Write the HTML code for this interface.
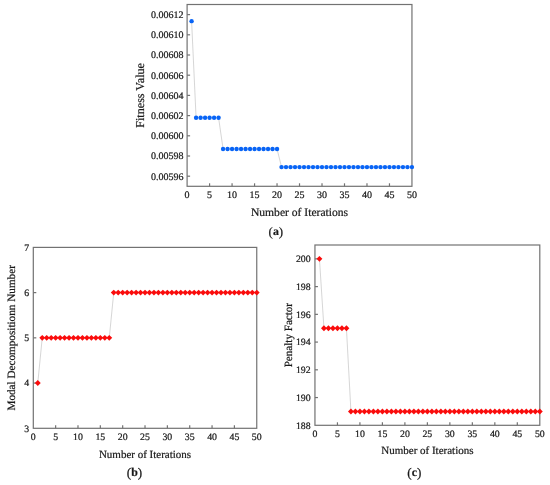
<!DOCTYPE html>
<html><head><meta charset="utf-8"><style>
html,body{margin:0;padding:0;background:#fff;}
body{width:550px;height:485px;overflow:hidden;}
svg{display:block;}
text{font-family:"Liberation Serif", "Times New Roman", serif;fill:#1a1a1a;stroke:#1a1a1a;stroke-width:0.22px;text-rendering:geometricPrecision;}
</style></head><body>
<svg width="550" height="485" viewBox="0 0 550 485">
<rect width="550" height="485" fill="#fff"/>
<g>
<rect x="187.1" y="4.5" width="224.85" height="181.8" fill="none" stroke="#727272" stroke-width="1.2"/>
<text x="187.1" y="197.5" text-anchor="middle" font-size="10">0</text>
<line x1="209.58" y1="186.3" x2="209.58" y2="183.3" stroke="#727272" stroke-width="1.2"/>
<text x="209.58" y="197.5" text-anchor="middle" font-size="10">5</text>
<line x1="232.07" y1="186.3" x2="232.07" y2="183.3" stroke="#727272" stroke-width="1.2"/>
<text x="232.07" y="197.5" text-anchor="middle" font-size="10">10</text>
<line x1="254.56" y1="186.3" x2="254.56" y2="183.3" stroke="#727272" stroke-width="1.2"/>
<text x="254.56" y="197.5" text-anchor="middle" font-size="10">15</text>
<line x1="277.04" y1="186.3" x2="277.04" y2="183.3" stroke="#727272" stroke-width="1.2"/>
<text x="277.04" y="197.5" text-anchor="middle" font-size="10">20</text>
<line x1="299.52" y1="186.3" x2="299.52" y2="183.3" stroke="#727272" stroke-width="1.2"/>
<text x="299.52" y="197.5" text-anchor="middle" font-size="10">25</text>
<line x1="322.01" y1="186.3" x2="322.01" y2="183.3" stroke="#727272" stroke-width="1.2"/>
<text x="322.01" y="197.5" text-anchor="middle" font-size="10">30</text>
<line x1="344.5" y1="186.3" x2="344.5" y2="183.3" stroke="#727272" stroke-width="1.2"/>
<text x="344.5" y="197.5" text-anchor="middle" font-size="10">35</text>
<line x1="366.98" y1="186.3" x2="366.98" y2="183.3" stroke="#727272" stroke-width="1.2"/>
<text x="366.98" y="197.5" text-anchor="middle" font-size="10">40</text>
<line x1="389.47" y1="186.3" x2="389.47" y2="183.3" stroke="#727272" stroke-width="1.2"/>
<text x="389.47" y="197.5" text-anchor="middle" font-size="10">45</text>
<text x="411.95" y="197.5" text-anchor="middle" font-size="10">50</text>
<line x1="187.1" y1="176.2" x2="190.1" y2="176.2" stroke="#727272" stroke-width="1.2"/>
<text x="183.4" y="179.55" text-anchor="end" font-size="10">0.00596</text>
<line x1="187.1" y1="156" x2="190.1" y2="156" stroke="#727272" stroke-width="1.2"/>
<text x="183.4" y="159.35" text-anchor="end" font-size="10">0.00598</text>
<line x1="187.1" y1="135.8" x2="190.1" y2="135.8" stroke="#727272" stroke-width="1.2"/>
<text x="183.4" y="139.15" text-anchor="end" font-size="10">0.00600</text>
<line x1="187.1" y1="115.6" x2="190.1" y2="115.6" stroke="#727272" stroke-width="1.2"/>
<text x="183.4" y="118.95" text-anchor="end" font-size="10">0.00602</text>
<line x1="187.1" y1="95.4" x2="190.1" y2="95.4" stroke="#727272" stroke-width="1.2"/>
<text x="183.4" y="98.75" text-anchor="end" font-size="10">0.00604</text>
<line x1="187.1" y1="75.2" x2="190.1" y2="75.2" stroke="#727272" stroke-width="1.2"/>
<text x="183.4" y="78.55" text-anchor="end" font-size="10">0.00606</text>
<line x1="187.1" y1="55" x2="190.1" y2="55" stroke="#727272" stroke-width="1.2"/>
<text x="183.4" y="58.35" text-anchor="end" font-size="10">0.00608</text>
<line x1="187.1" y1="34.8" x2="190.1" y2="34.8" stroke="#727272" stroke-width="1.2"/>
<text x="183.4" y="38.15" text-anchor="end" font-size="10">0.00610</text>
<line x1="187.1" y1="14.6" x2="190.1" y2="14.6" stroke="#727272" stroke-width="1.2"/>
<text x="183.4" y="17.95" text-anchor="end" font-size="10">0.00612</text>
<polyline points="191.6,21.17 196.09,117.82 200.59,117.82 205.09,117.82 209.58,117.82 214.08,117.82 218.58,117.82 223.08,148.93 227.57,148.93 232.07,148.93 236.57,148.93 241.06,148.93 245.56,148.93 250.06,148.93 254.56,148.93 259.05,148.93 263.55,148.93 268.05,148.93 272.54,148.93 277.04,148.93 281.54,167.11 286.03,167.11 290.53,167.11 295.03,167.11 299.52,167.11 304.02,167.11 308.52,167.11 313.02,167.11 317.51,167.11 322.01,167.11 326.51,167.11 331,167.11 335.5,167.11 340,167.11 344.5,167.11 348.99,167.11 353.49,167.11 357.99,167.11 362.48,167.11 366.98,167.11 371.48,167.11 375.97,167.11 380.47,167.11 384.97,167.11 389.47,167.11 393.96,167.11 398.46,167.11 402.96,167.11 407.45,167.11 411.95,167.11" fill="none" stroke="#cbcbcb" stroke-width="0.8"/>
<circle cx="191.6" cy="21.17" r="2.2" fill="#0864f6"/>
<circle cx="196.09" cy="117.82" r="2.2" fill="#0864f6"/>
<circle cx="200.59" cy="117.82" r="2.2" fill="#0864f6"/>
<circle cx="205.09" cy="117.82" r="2.2" fill="#0864f6"/>
<circle cx="209.58" cy="117.82" r="2.2" fill="#0864f6"/>
<circle cx="214.08" cy="117.82" r="2.2" fill="#0864f6"/>
<circle cx="218.58" cy="117.82" r="2.2" fill="#0864f6"/>
<circle cx="223.08" cy="148.93" r="2.2" fill="#0864f6"/>
<circle cx="227.57" cy="148.93" r="2.2" fill="#0864f6"/>
<circle cx="232.07" cy="148.93" r="2.2" fill="#0864f6"/>
<circle cx="236.57" cy="148.93" r="2.2" fill="#0864f6"/>
<circle cx="241.06" cy="148.93" r="2.2" fill="#0864f6"/>
<circle cx="245.56" cy="148.93" r="2.2" fill="#0864f6"/>
<circle cx="250.06" cy="148.93" r="2.2" fill="#0864f6"/>
<circle cx="254.56" cy="148.93" r="2.2" fill="#0864f6"/>
<circle cx="259.05" cy="148.93" r="2.2" fill="#0864f6"/>
<circle cx="263.55" cy="148.93" r="2.2" fill="#0864f6"/>
<circle cx="268.05" cy="148.93" r="2.2" fill="#0864f6"/>
<circle cx="272.54" cy="148.93" r="2.2" fill="#0864f6"/>
<circle cx="277.04" cy="148.93" r="2.2" fill="#0864f6"/>
<circle cx="281.54" cy="167.11" r="2.2" fill="#0864f6"/>
<circle cx="286.03" cy="167.11" r="2.2" fill="#0864f6"/>
<circle cx="290.53" cy="167.11" r="2.2" fill="#0864f6"/>
<circle cx="295.03" cy="167.11" r="2.2" fill="#0864f6"/>
<circle cx="299.52" cy="167.11" r="2.2" fill="#0864f6"/>
<circle cx="304.02" cy="167.11" r="2.2" fill="#0864f6"/>
<circle cx="308.52" cy="167.11" r="2.2" fill="#0864f6"/>
<circle cx="313.02" cy="167.11" r="2.2" fill="#0864f6"/>
<circle cx="317.51" cy="167.11" r="2.2" fill="#0864f6"/>
<circle cx="322.01" cy="167.11" r="2.2" fill="#0864f6"/>
<circle cx="326.51" cy="167.11" r="2.2" fill="#0864f6"/>
<circle cx="331" cy="167.11" r="2.2" fill="#0864f6"/>
<circle cx="335.5" cy="167.11" r="2.2" fill="#0864f6"/>
<circle cx="340" cy="167.11" r="2.2" fill="#0864f6"/>
<circle cx="344.5" cy="167.11" r="2.2" fill="#0864f6"/>
<circle cx="348.99" cy="167.11" r="2.2" fill="#0864f6"/>
<circle cx="353.49" cy="167.11" r="2.2" fill="#0864f6"/>
<circle cx="357.99" cy="167.11" r="2.2" fill="#0864f6"/>
<circle cx="362.48" cy="167.11" r="2.2" fill="#0864f6"/>
<circle cx="366.98" cy="167.11" r="2.2" fill="#0864f6"/>
<circle cx="371.48" cy="167.11" r="2.2" fill="#0864f6"/>
<circle cx="375.97" cy="167.11" r="2.2" fill="#0864f6"/>
<circle cx="380.47" cy="167.11" r="2.2" fill="#0864f6"/>
<circle cx="384.97" cy="167.11" r="2.2" fill="#0864f6"/>
<circle cx="389.47" cy="167.11" r="2.2" fill="#0864f6"/>
<circle cx="393.96" cy="167.11" r="2.2" fill="#0864f6"/>
<circle cx="398.46" cy="167.11" r="2.2" fill="#0864f6"/>
<circle cx="402.96" cy="167.11" r="2.2" fill="#0864f6"/>
<circle cx="407.45" cy="167.11" r="2.2" fill="#0864f6"/>
<circle cx="411.95" cy="167.11" r="2.2" fill="#0864f6"/>
<text transform="translate(144.1,95.4) rotate(-90)" text-anchor="middle" font-size="12.1">Fitness Value</text>
<text x="299.52" y="216.2" text-anchor="middle" font-size="11.6">Number of Iterations</text>
<rect x="33.3" y="247.4" width="223.45" height="180.9" fill="none" stroke="#727272" stroke-width="1.2"/>
<text x="33.3" y="439.6" text-anchor="middle" font-size="9.8">0</text>
<line x1="55.64" y1="428.3" x2="55.64" y2="425.3" stroke="#727272" stroke-width="1.2"/>
<text x="55.64" y="439.6" text-anchor="middle" font-size="9.8">5</text>
<line x1="77.99" y1="428.3" x2="77.99" y2="425.3" stroke="#727272" stroke-width="1.2"/>
<text x="77.99" y="439.6" text-anchor="middle" font-size="9.8">10</text>
<line x1="100.33" y1="428.3" x2="100.33" y2="425.3" stroke="#727272" stroke-width="1.2"/>
<text x="100.33" y="439.6" text-anchor="middle" font-size="9.8">15</text>
<line x1="122.68" y1="428.3" x2="122.68" y2="425.3" stroke="#727272" stroke-width="1.2"/>
<text x="122.68" y="439.6" text-anchor="middle" font-size="9.8">20</text>
<line x1="145.02" y1="428.3" x2="145.02" y2="425.3" stroke="#727272" stroke-width="1.2"/>
<text x="145.02" y="439.6" text-anchor="middle" font-size="9.8">25</text>
<line x1="167.37" y1="428.3" x2="167.37" y2="425.3" stroke="#727272" stroke-width="1.2"/>
<text x="167.37" y="439.6" text-anchor="middle" font-size="9.8">30</text>
<line x1="189.71" y1="428.3" x2="189.71" y2="425.3" stroke="#727272" stroke-width="1.2"/>
<text x="189.71" y="439.6" text-anchor="middle" font-size="9.8">35</text>
<line x1="212.06" y1="428.3" x2="212.06" y2="425.3" stroke="#727272" stroke-width="1.2"/>
<text x="212.06" y="439.6" text-anchor="middle" font-size="9.8">40</text>
<line x1="234.4" y1="428.3" x2="234.4" y2="425.3" stroke="#727272" stroke-width="1.2"/>
<text x="234.4" y="439.6" text-anchor="middle" font-size="9.8">45</text>
<text x="256.75" y="439.6" text-anchor="middle" font-size="9.8">50</text>
<text x="29.2" y="431.58" text-anchor="end" font-size="9.8">3</text>
<line x1="33.3" y1="383.07" x2="36.3" y2="383.07" stroke="#727272" stroke-width="1.2"/>
<text x="29.2" y="386.36" text-anchor="end" font-size="9.8">4</text>
<line x1="33.3" y1="337.85" x2="36.3" y2="337.85" stroke="#727272" stroke-width="1.2"/>
<text x="29.2" y="341.13" text-anchor="end" font-size="9.8">5</text>
<line x1="33.3" y1="292.62" x2="36.3" y2="292.62" stroke="#727272" stroke-width="1.2"/>
<text x="29.2" y="295.91" text-anchor="end" font-size="9.8">6</text>
<text x="29.2" y="250.68" text-anchor="end" font-size="9.8">7</text>
<polyline points="37.77,383.07 42.24,337.85 46.71,337.85 51.18,337.85 55.64,337.85 60.11,337.85 64.58,337.85 69.05,337.85 73.52,337.85 77.99,337.85 82.46,337.85 86.93,337.85 91.4,337.85 95.87,337.85 100.33,337.85 104.8,337.85 109.27,337.85 113.74,292.62 118.21,292.62 122.68,292.62 127.15,292.62 131.62,292.62 136.09,292.62 140.56,292.62 145.02,292.62 149.49,292.62 153.96,292.62 158.43,292.62 162.9,292.62 167.37,292.62 171.84,292.62 176.31,292.62 180.78,292.62 185.25,292.62 189.71,292.62 194.18,292.62 198.65,292.62 203.12,292.62 207.59,292.62 212.06,292.62 216.53,292.62 221,292.62 225.47,292.62 229.94,292.62 234.4,292.62 238.87,292.62 243.34,292.62 247.81,292.62 252.28,292.62 256.75,292.62" fill="none" stroke="#cbcbcb" stroke-width="0.8"/>
<path d="M37.77 380.12L40.72 383.07L37.77 386.02L34.82 383.07Z" fill="#fa0c0c"/>
<path d="M42.24 334.9L45.19 337.85L42.24 340.8L39.29 337.85Z" fill="#fa0c0c"/>
<path d="M46.71 334.9L49.66 337.85L46.71 340.8L43.76 337.85Z" fill="#fa0c0c"/>
<path d="M51.18 334.9L54.13 337.85L51.18 340.8L48.23 337.85Z" fill="#fa0c0c"/>
<path d="M55.64 334.9L58.59 337.85L55.64 340.8L52.69 337.85Z" fill="#fa0c0c"/>
<path d="M60.11 334.9L63.06 337.85L60.11 340.8L57.16 337.85Z" fill="#fa0c0c"/>
<path d="M64.58 334.9L67.53 337.85L64.58 340.8L61.63 337.85Z" fill="#fa0c0c"/>
<path d="M69.05 334.9L72 337.85L69.05 340.8L66.1 337.85Z" fill="#fa0c0c"/>
<path d="M73.52 334.9L76.47 337.85L73.52 340.8L70.57 337.85Z" fill="#fa0c0c"/>
<path d="M77.99 334.9L80.94 337.85L77.99 340.8L75.04 337.85Z" fill="#fa0c0c"/>
<path d="M82.46 334.9L85.41 337.85L82.46 340.8L79.51 337.85Z" fill="#fa0c0c"/>
<path d="M86.93 334.9L89.88 337.85L86.93 340.8L83.98 337.85Z" fill="#fa0c0c"/>
<path d="M91.4 334.9L94.35 337.85L91.4 340.8L88.45 337.85Z" fill="#fa0c0c"/>
<path d="M95.87 334.9L98.82 337.85L95.87 340.8L92.92 337.85Z" fill="#fa0c0c"/>
<path d="M100.33 334.9L103.28 337.85L100.33 340.8L97.38 337.85Z" fill="#fa0c0c"/>
<path d="M104.8 334.9L107.75 337.85L104.8 340.8L101.85 337.85Z" fill="#fa0c0c"/>
<path d="M109.27 334.9L112.22 337.85L109.27 340.8L106.32 337.85Z" fill="#fa0c0c"/>
<path d="M113.74 289.68L116.69 292.62L113.74 295.57L110.79 292.62Z" fill="#fa0c0c"/>
<path d="M118.21 289.68L121.16 292.62L118.21 295.57L115.26 292.62Z" fill="#fa0c0c"/>
<path d="M122.68 289.68L125.63 292.62L122.68 295.57L119.73 292.62Z" fill="#fa0c0c"/>
<path d="M127.15 289.68L130.1 292.62L127.15 295.57L124.2 292.62Z" fill="#fa0c0c"/>
<path d="M131.62 289.68L134.57 292.62L131.62 295.57L128.67 292.62Z" fill="#fa0c0c"/>
<path d="M136.09 289.68L139.04 292.62L136.09 295.57L133.14 292.62Z" fill="#fa0c0c"/>
<path d="M140.56 289.68L143.51 292.62L140.56 295.57L137.61 292.62Z" fill="#fa0c0c"/>
<path d="M145.02 289.68L147.97 292.62L145.02 295.57L142.07 292.62Z" fill="#fa0c0c"/>
<path d="M149.49 289.68L152.44 292.62L149.49 295.57L146.54 292.62Z" fill="#fa0c0c"/>
<path d="M153.96 289.68L156.91 292.62L153.96 295.57L151.01 292.62Z" fill="#fa0c0c"/>
<path d="M158.43 289.68L161.38 292.62L158.43 295.57L155.48 292.62Z" fill="#fa0c0c"/>
<path d="M162.9 289.68L165.85 292.62L162.9 295.57L159.95 292.62Z" fill="#fa0c0c"/>
<path d="M167.37 289.68L170.32 292.62L167.37 295.57L164.42 292.62Z" fill="#fa0c0c"/>
<path d="M171.84 289.68L174.79 292.62L171.84 295.57L168.89 292.62Z" fill="#fa0c0c"/>
<path d="M176.31 289.68L179.26 292.62L176.31 295.57L173.36 292.62Z" fill="#fa0c0c"/>
<path d="M180.78 289.68L183.73 292.62L180.78 295.57L177.83 292.62Z" fill="#fa0c0c"/>
<path d="M185.25 289.68L188.2 292.62L185.25 295.57L182.3 292.62Z" fill="#fa0c0c"/>
<path d="M189.71 289.68L192.66 292.62L189.71 295.57L186.76 292.62Z" fill="#fa0c0c"/>
<path d="M194.18 289.68L197.13 292.62L194.18 295.57L191.23 292.62Z" fill="#fa0c0c"/>
<path d="M198.65 289.68L201.6 292.62L198.65 295.57L195.7 292.62Z" fill="#fa0c0c"/>
<path d="M203.12 289.68L206.07 292.62L203.12 295.57L200.17 292.62Z" fill="#fa0c0c"/>
<path d="M207.59 289.68L210.54 292.62L207.59 295.57L204.64 292.62Z" fill="#fa0c0c"/>
<path d="M212.06 289.68L215.01 292.62L212.06 295.57L209.11 292.62Z" fill="#fa0c0c"/>
<path d="M216.53 289.68L219.48 292.62L216.53 295.57L213.58 292.62Z" fill="#fa0c0c"/>
<path d="M221 289.68L223.95 292.62L221 295.57L218.05 292.62Z" fill="#fa0c0c"/>
<path d="M225.47 289.68L228.42 292.62L225.47 295.57L222.52 292.62Z" fill="#fa0c0c"/>
<path d="M229.94 289.68L232.89 292.62L229.94 295.57L226.99 292.62Z" fill="#fa0c0c"/>
<path d="M234.4 289.68L237.35 292.62L234.4 295.57L231.45 292.62Z" fill="#fa0c0c"/>
<path d="M238.87 289.68L241.82 292.62L238.87 295.57L235.92 292.62Z" fill="#fa0c0c"/>
<path d="M243.34 289.68L246.29 292.62L243.34 295.57L240.39 292.62Z" fill="#fa0c0c"/>
<path d="M247.81 289.68L250.76 292.62L247.81 295.57L244.86 292.62Z" fill="#fa0c0c"/>
<path d="M252.28 289.68L255.23 292.62L252.28 295.57L249.33 292.62Z" fill="#fa0c0c"/>
<path d="M256.75 289.68L259.7 292.62L256.75 295.57L253.8 292.62Z" fill="#fa0c0c"/>
<text transform="translate(14.8,337.85) rotate(-90)" text-anchor="middle" font-size="11.2">Modal Decompositionn Number</text>
<text x="145.03" y="457.5" text-anchor="middle" font-size="11">Number of Iterations</text>
<rect x="314.95" y="245" width="224.85" height="180.3" fill="none" stroke="#727272" stroke-width="1.2"/>
<text x="314.95" y="436.6" text-anchor="middle" font-size="9.8">0</text>
<line x1="337.44" y1="425.3" x2="337.44" y2="422.3" stroke="#727272" stroke-width="1.2"/>
<text x="337.44" y="436.6" text-anchor="middle" font-size="9.8">5</text>
<line x1="359.92" y1="425.3" x2="359.92" y2="422.3" stroke="#727272" stroke-width="1.2"/>
<text x="359.92" y="436.6" text-anchor="middle" font-size="9.8">10</text>
<line x1="382.4" y1="425.3" x2="382.4" y2="422.3" stroke="#727272" stroke-width="1.2"/>
<text x="382.4" y="436.6" text-anchor="middle" font-size="9.8">15</text>
<line x1="404.89" y1="425.3" x2="404.89" y2="422.3" stroke="#727272" stroke-width="1.2"/>
<text x="404.89" y="436.6" text-anchor="middle" font-size="9.8">20</text>
<line x1="427.38" y1="425.3" x2="427.38" y2="422.3" stroke="#727272" stroke-width="1.2"/>
<text x="427.38" y="436.6" text-anchor="middle" font-size="9.8">25</text>
<line x1="449.86" y1="425.3" x2="449.86" y2="422.3" stroke="#727272" stroke-width="1.2"/>
<text x="449.86" y="436.6" text-anchor="middle" font-size="9.8">30</text>
<line x1="472.34" y1="425.3" x2="472.34" y2="422.3" stroke="#727272" stroke-width="1.2"/>
<text x="472.34" y="436.6" text-anchor="middle" font-size="9.8">35</text>
<line x1="494.83" y1="425.3" x2="494.83" y2="422.3" stroke="#727272" stroke-width="1.2"/>
<text x="494.83" y="436.6" text-anchor="middle" font-size="9.8">40</text>
<line x1="517.31" y1="425.3" x2="517.31" y2="422.3" stroke="#727272" stroke-width="1.2"/>
<text x="517.31" y="436.6" text-anchor="middle" font-size="9.8">45</text>
<text x="539.8" y="436.6" text-anchor="middle" font-size="9.8">50</text>
<text x="310.6" y="428.58" text-anchor="end" font-size="9.8">188</text>
<line x1="314.95" y1="397.56" x2="317.95" y2="397.56" stroke="#727272" stroke-width="1.2"/>
<text x="310.6" y="400.84" text-anchor="end" font-size="9.8">190</text>
<line x1="314.95" y1="369.82" x2="317.95" y2="369.82" stroke="#727272" stroke-width="1.2"/>
<text x="310.6" y="373.11" text-anchor="end" font-size="9.8">192</text>
<line x1="314.95" y1="342.08" x2="317.95" y2="342.08" stroke="#727272" stroke-width="1.2"/>
<text x="310.6" y="345.37" text-anchor="end" font-size="9.8">194</text>
<line x1="314.95" y1="314.35" x2="317.95" y2="314.35" stroke="#727272" stroke-width="1.2"/>
<text x="310.6" y="317.63" text-anchor="end" font-size="9.8">196</text>
<line x1="314.95" y1="286.61" x2="317.95" y2="286.61" stroke="#727272" stroke-width="1.2"/>
<text x="310.6" y="289.89" text-anchor="end" font-size="9.8">198</text>
<line x1="314.95" y1="258.87" x2="317.95" y2="258.87" stroke="#727272" stroke-width="1.2"/>
<text x="310.6" y="262.15" text-anchor="end" font-size="9.8">200</text>
<polyline points="319.45,258.87 323.94,328.22 328.44,328.22 332.94,328.22 337.44,328.22 341.93,328.22 346.43,328.22 350.93,411.43 355.42,411.43 359.92,411.43 364.42,411.43 368.91,411.43 373.41,411.43 377.91,411.43 382.4,411.43 386.9,411.43 391.4,411.43 395.9,411.43 400.39,411.43 404.89,411.43 409.39,411.43 413.88,411.43 418.38,411.43 422.88,411.43 427.38,411.43 431.87,411.43 436.37,411.43 440.87,411.43 445.36,411.43 449.86,411.43 454.36,411.43 458.85,411.43 463.35,411.43 467.85,411.43 472.34,411.43 476.84,411.43 481.34,411.43 485.84,411.43 490.33,411.43 494.83,411.43 499.33,411.43 503.82,411.43 508.32,411.43 512.82,411.43 517.31,411.43 521.81,411.43 526.31,411.43 530.81,411.43 535.3,411.43 539.8,411.43" fill="none" stroke="#cbcbcb" stroke-width="0.8"/>
<path d="M319.45 255.92L322.4 258.87L319.45 261.82L316.5 258.87Z" fill="#fa0c0c"/>
<path d="M323.94 325.27L326.89 328.22L323.94 331.17L320.99 328.22Z" fill="#fa0c0c"/>
<path d="M328.44 325.27L331.39 328.22L328.44 331.17L325.49 328.22Z" fill="#fa0c0c"/>
<path d="M332.94 325.27L335.89 328.22L332.94 331.17L329.99 328.22Z" fill="#fa0c0c"/>
<path d="M337.44 325.27L340.38 328.22L337.44 331.17L334.49 328.22Z" fill="#fa0c0c"/>
<path d="M341.93 325.27L344.88 328.22L341.93 331.17L338.98 328.22Z" fill="#fa0c0c"/>
<path d="M346.43 325.27L349.38 328.22L346.43 331.17L343.48 328.22Z" fill="#fa0c0c"/>
<path d="M350.93 408.48L353.88 411.43L350.93 414.38L347.98 411.43Z" fill="#fa0c0c"/>
<path d="M355.42 408.48L358.37 411.43L355.42 414.38L352.47 411.43Z" fill="#fa0c0c"/>
<path d="M359.92 408.48L362.87 411.43L359.92 414.38L356.97 411.43Z" fill="#fa0c0c"/>
<path d="M364.42 408.48L367.37 411.43L364.42 414.38L361.47 411.43Z" fill="#fa0c0c"/>
<path d="M368.91 408.48L371.86 411.43L368.91 414.38L365.96 411.43Z" fill="#fa0c0c"/>
<path d="M373.41 408.48L376.36 411.43L373.41 414.38L370.46 411.43Z" fill="#fa0c0c"/>
<path d="M377.91 408.48L380.86 411.43L377.91 414.38L374.96 411.43Z" fill="#fa0c0c"/>
<path d="M382.4 408.48L385.35 411.43L382.4 414.38L379.45 411.43Z" fill="#fa0c0c"/>
<path d="M386.9 408.48L389.85 411.43L386.9 414.38L383.95 411.43Z" fill="#fa0c0c"/>
<path d="M391.4 408.48L394.35 411.43L391.4 414.38L388.45 411.43Z" fill="#fa0c0c"/>
<path d="M395.9 408.48L398.85 411.43L395.9 414.38L392.95 411.43Z" fill="#fa0c0c"/>
<path d="M400.39 408.48L403.34 411.43L400.39 414.38L397.44 411.43Z" fill="#fa0c0c"/>
<path d="M404.89 408.48L407.84 411.43L404.89 414.38L401.94 411.43Z" fill="#fa0c0c"/>
<path d="M409.39 408.48L412.34 411.43L409.39 414.38L406.44 411.43Z" fill="#fa0c0c"/>
<path d="M413.88 408.48L416.83 411.43L413.88 414.38L410.93 411.43Z" fill="#fa0c0c"/>
<path d="M418.38 408.48L421.33 411.43L418.38 414.38L415.43 411.43Z" fill="#fa0c0c"/>
<path d="M422.88 408.48L425.83 411.43L422.88 414.38L419.93 411.43Z" fill="#fa0c0c"/>
<path d="M427.38 408.48L430.32 411.43L427.38 414.38L424.43 411.43Z" fill="#fa0c0c"/>
<path d="M431.87 408.48L434.82 411.43L431.87 414.38L428.92 411.43Z" fill="#fa0c0c"/>
<path d="M436.37 408.48L439.32 411.43L436.37 414.38L433.42 411.43Z" fill="#fa0c0c"/>
<path d="M440.87 408.48L443.82 411.43L440.87 414.38L437.92 411.43Z" fill="#fa0c0c"/>
<path d="M445.36 408.48L448.31 411.43L445.36 414.38L442.41 411.43Z" fill="#fa0c0c"/>
<path d="M449.86 408.48L452.81 411.43L449.86 414.38L446.91 411.43Z" fill="#fa0c0c"/>
<path d="M454.36 408.48L457.31 411.43L454.36 414.38L451.41 411.43Z" fill="#fa0c0c"/>
<path d="M458.85 408.48L461.8 411.43L458.85 414.38L455.9 411.43Z" fill="#fa0c0c"/>
<path d="M463.35 408.48L466.3 411.43L463.35 414.38L460.4 411.43Z" fill="#fa0c0c"/>
<path d="M467.85 408.48L470.8 411.43L467.85 414.38L464.9 411.43Z" fill="#fa0c0c"/>
<path d="M472.34 408.48L475.29 411.43L472.34 414.38L469.39 411.43Z" fill="#fa0c0c"/>
<path d="M476.84 408.48L479.79 411.43L476.84 414.38L473.89 411.43Z" fill="#fa0c0c"/>
<path d="M481.34 408.48L484.29 411.43L481.34 414.38L478.39 411.43Z" fill="#fa0c0c"/>
<path d="M485.84 408.48L488.79 411.43L485.84 414.38L482.89 411.43Z" fill="#fa0c0c"/>
<path d="M490.33 408.48L493.28 411.43L490.33 414.38L487.38 411.43Z" fill="#fa0c0c"/>
<path d="M494.83 408.48L497.78 411.43L494.83 414.38L491.88 411.43Z" fill="#fa0c0c"/>
<path d="M499.33 408.48L502.28 411.43L499.33 414.38L496.38 411.43Z" fill="#fa0c0c"/>
<path d="M503.82 408.48L506.77 411.43L503.82 414.38L500.87 411.43Z" fill="#fa0c0c"/>
<path d="M508.32 408.48L511.27 411.43L508.32 414.38L505.37 411.43Z" fill="#fa0c0c"/>
<path d="M512.82 408.48L515.77 411.43L512.82 414.38L509.87 411.43Z" fill="#fa0c0c"/>
<path d="M517.31 408.48L520.26 411.43L517.31 414.38L514.36 411.43Z" fill="#fa0c0c"/>
<path d="M521.81 408.48L524.76 411.43L521.81 414.38L518.86 411.43Z" fill="#fa0c0c"/>
<path d="M526.31 408.48L529.26 411.43L526.31 414.38L523.36 411.43Z" fill="#fa0c0c"/>
<path d="M530.81 408.48L533.76 411.43L530.81 414.38L527.86 411.43Z" fill="#fa0c0c"/>
<path d="M535.3 408.48L538.25 411.43L535.3 414.38L532.35 411.43Z" fill="#fa0c0c"/>
<path d="M539.8 408.48L542.75 411.43L539.8 414.38L536.85 411.43Z" fill="#fa0c0c"/>
<text transform="translate(291.9,335.15) rotate(-90)" text-anchor="middle" font-size="11.1">Penalty Factor</text>
<text x="427.38" y="454.2" text-anchor="middle" font-size="11">Number of Iterations</text>
<text x="275.9" y="235.8" text-anchor="middle" font-size="13">(<tspan font-weight="bold" font-size="11.8" dy="-0.7">a</tspan><tspan dy="0.7">)</tspan></text>
<text x="134.5" y="477.1" text-anchor="middle" font-size="13.2">(<tspan font-weight="bold" font-size="11.8" dy="-0.7">b</tspan><tspan dy="0.7">)</tspan></text>
<text x="414.4" y="477.1" text-anchor="middle" font-size="13.2">(<tspan font-weight="bold" font-size="11.8" dy="-0.7">c</tspan><tspan dy="0.7">)</tspan></text>
</g>
</svg>
</body></html>
